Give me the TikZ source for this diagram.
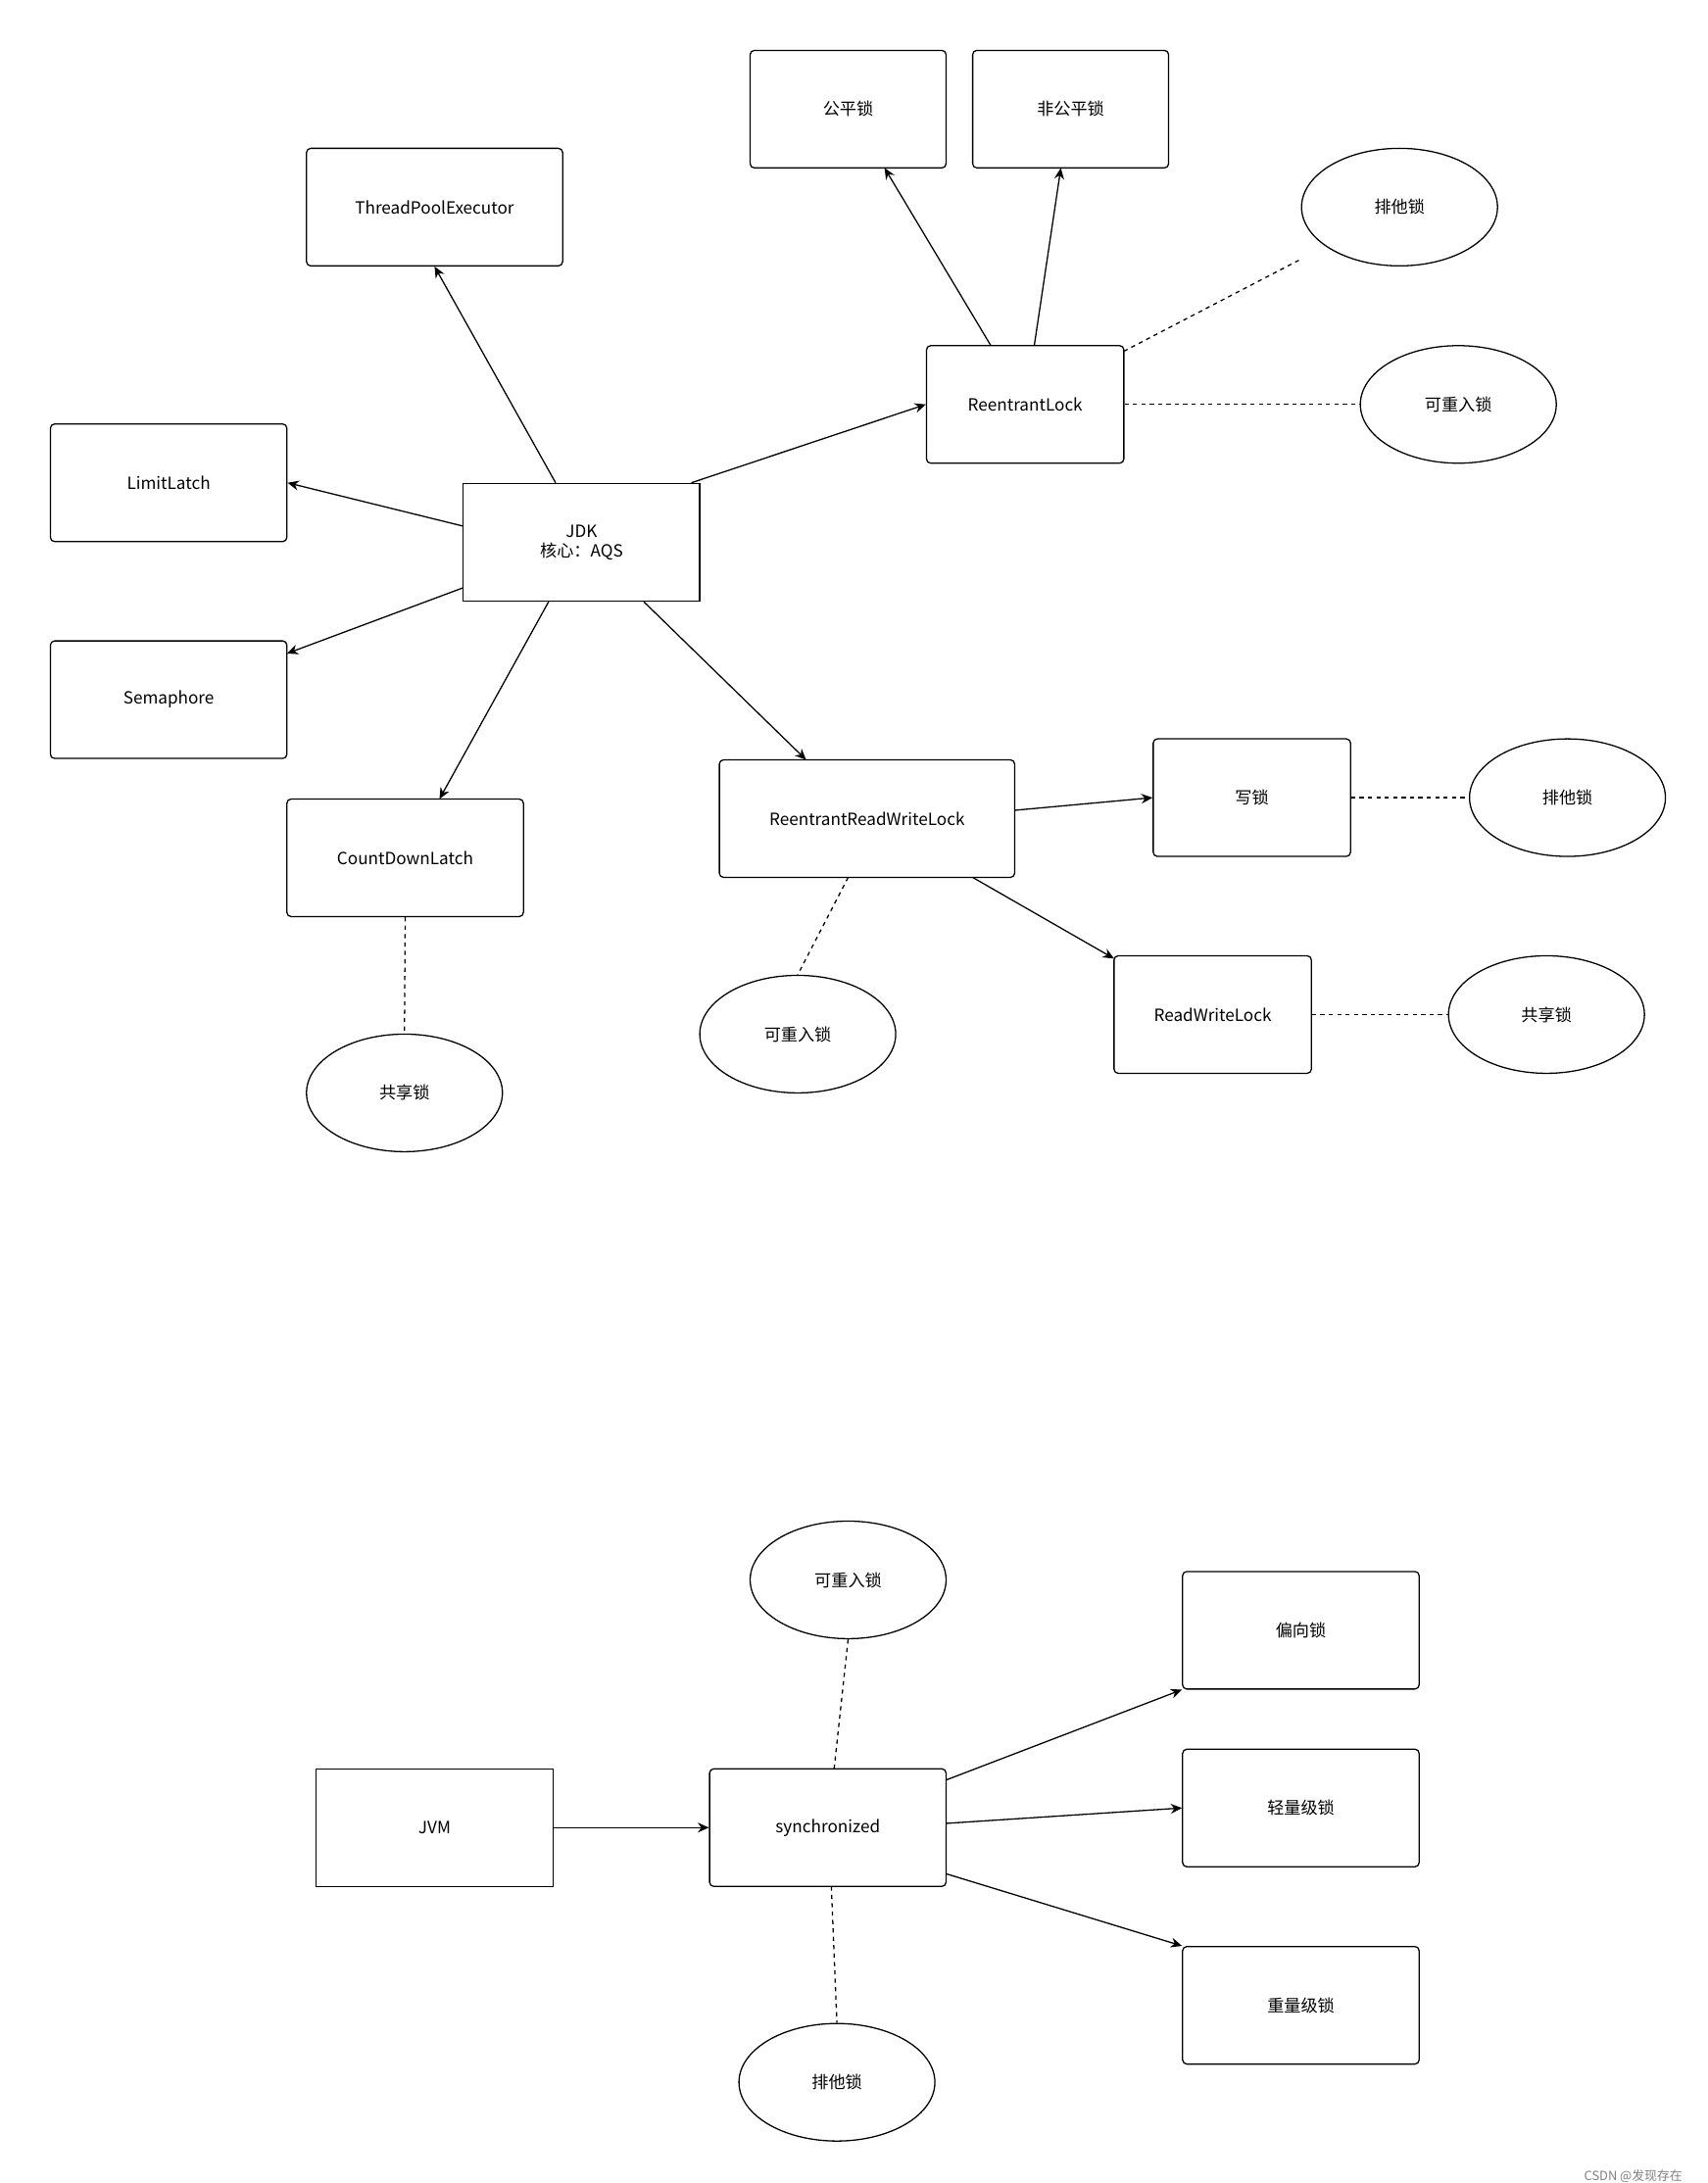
\documentclass[tikz,border=0pt]{standalone}
\usepackage{fontspec}
\setmainfont{Noto Sans CJK SC}
\usetikzlibrary{shapes.geometric,arrows.meta}
\begin{document}
\begin{tikzpicture}[x=1pt,y=-1pt,
 box/.style={draw,rounded corners=3pt,minimum width=#1,minimum height=84pt,inner sep=0pt,font=\fontsize{12}{14}\selectfont,line width=0.9pt},
 box/.default=169pt,
 ell/.style={draw,ellipse,minimum width=140pt,minimum height=84pt,inner sep=0pt,font=\fontsize{12}{14}\selectfont,line width=0.9pt},
 arr/.style={-{Stealth[length=8pt,width=7pt]},line width=0.9pt},
 dsh/.style={dashed,line width=0.9pt}]
\useasboundingbox (0,0) rectangle (1220,1560);
\node[box=183pt] (tpe) at (310.5,148) {ThreadPoolExecutor};
\node[box=140pt] (gp) at (606,78) {公平锁};
\node[box=140pt] (fgp) at (765,78) {非公平锁};
\node[ell] (px1) at (1000,148) {排他锁};
\node[box=141pt] (rl) at (732.5,289) {ReentrantLock};
\node[ell] (kc1) at (1042,289) {可重入锁};
\node[box] (ll) at (120.5,345) {LimitLatch};
\node[box,rounded corners=0pt,align=center] (jdk) at (415.5,387.5) {JDK\\核心：AQS};
\node[box] (sem) at (120.5,500) {Semaphore};
\node[box] (cdl) at (289.5,613) {CountDownLatch};
\node[box=211pt] (rrwl) at (619.5,585) {ReentrantReadWriteLock};
\node[box=141pt] (xs) at (894.5,570) {写锁};
\node[ell] (px2) at (1120,570) {排他锁};
\node[box=141pt] (rwl) at (866.5,725) {ReadWriteLock};
\node[ell] (gx1) at (1105,725) {共享锁};
\node[ell] (kc2) at (570,739) {可重入锁};
\node[ell] (gx2) at (289,781) {共享锁};
\node[ell] (kc3) at (606,1129) {可重入锁};
\node[box] (pxs) at (929.5,1165) {偏向锁};
\node[box,rounded corners=0pt] (jvm) at (310.5,1306) {JVM};
\node[box] (syn) at (591.5,1306) {synchronized};
\node[box] (qlj) at (929.5,1292) {轻量级锁};
\node[ell] (px3) at (598,1488) {排他锁};
\node[box] (zlj) at (929.5,1433) {重量级锁};
\node[text=gray,font=\fontsize{9}{10}\selectfont] (wm) at (1167,1555) {CSDN @发现存在};
% arrows
\draw[arr] (397,345) -- (tpe.south);
\draw[arr] (331,376) -- (ll.east);
\draw[arr] (331,420) -- (205,467);
\draw[arr] (392,430) -- (314,571);
\draw[arr] (460,430) -- (576,543);
\draw[arr] (494,345) -- (rl.west);
\draw[arr] (708,247) -- (632,120);
\draw[arr] (739,247) -- (758,120);
\draw[arr] (rrwl.east) ++(0,-6) -- (xs.west);
\draw[arr] (695,627) -- (796,685);
\draw[arr] (jvm.east) -- (syn.west);
\draw[arr] (676,1272) -- (pxs.south west);
\draw[arr] (676,1303) -- (qlj.west);
\draw[arr] (676,1339) -- (zlj.north west);
% dashed
\draw[dsh] (803,251) -- (928,186);
\draw[dsh] (rl.east) -- (kc1.west);
\draw[dsh] (xs.east) -- (px2.west);
\draw[dsh] (rwl.east) -- (gx1.west);
\draw[dsh] (606,627) -- (kc2.north);
\draw[dsh] (cdl.south) -- (gx2.north);
\draw[dsh] (596,1264) -- (kc3.south);
\draw[dsh] (594,1348) -- (px3.north);
\end{tikzpicture}
\end{document}
